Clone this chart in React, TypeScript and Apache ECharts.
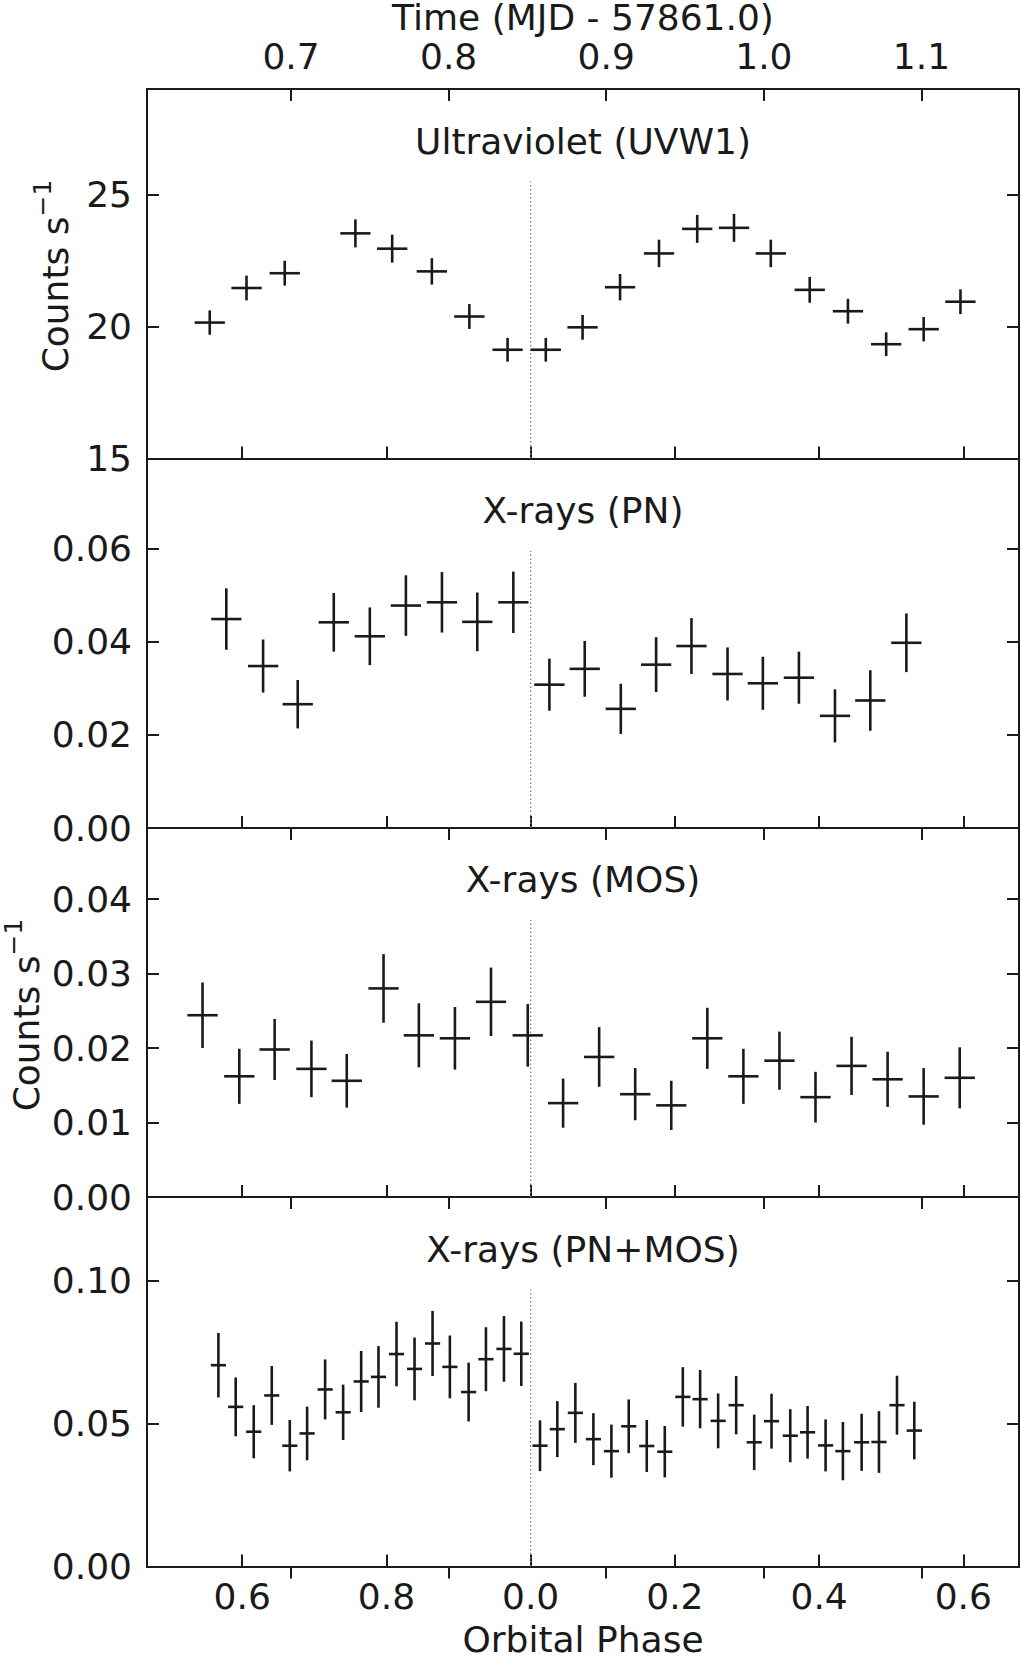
import React, { useEffect, useRef } from "react";
import * as echarts from "echarts";

// ---- data ----
const uvPhase = [0.555, 0.606, 0.659, 0.757, 0.808, 0.863, 0.915, 0.968, 1.021, 1.072, 1.124, 1.178, 1.231, 1.282, 1.333, 1.387, 1.44, 1.493, 1.545, 1.596];
const uvRate = [20.15, 21.46, 22.02, 23.53, 22.95, 22.09, 20.38, 19.12, 19.12, 19.97, 21.49, 22.77, 23.7, 23.74, 22.77, 21.39, 20.58, 19.33, 19.9, 20.94];
const uvErr = [0.46, 0.47, 0.47, 0.53, 0.53, 0.5, 0.47, 0.45, 0.45, 0.47, 0.5, 0.52, 0.53, 0.53, 0.52, 0.49, 0.47, 0.45, 0.46, 0.47];

const pnPhase = [0.578, 0.629, 0.677, 0.727, 0.777, 0.827, 0.877, 0.926, 0.976, 1.026, 1.075, 1.125, 1.174, 1.223, 1.273, 1.322, 1.372, 1.422, 1.471, 1.521];
const pnRate = [0.0449, 0.0348, 0.0266, 0.0442, 0.0412, 0.0478, 0.0485, 0.0443, 0.0485, 0.0308, 0.0342, 0.0256, 0.0351, 0.0391, 0.0331, 0.0311, 0.0323, 0.0241, 0.0274, 0.0398];
const pnErr = [0.0066, 0.0057, 0.0052, 0.0063, 0.0062, 0.0065, 0.0065, 0.0063, 0.0066, 0.0056, 0.006, 0.0054, 0.0059, 0.006, 0.0057, 0.0057, 0.0056, 0.0057, 0.0065, 0.0063];

const mosPhase = [0.545, 0.596, 0.645, 0.696, 0.745, 0.796, 0.845, 0.895, 0.945, 0.996, 1.045, 1.095, 1.145, 1.195, 1.245, 1.295, 1.345, 1.395, 1.445, 1.495, 1.545, 1.595];
const mosRate = [0.0244, 0.0162, 0.0198, 0.0172, 0.0156, 0.028, 0.0217, 0.0213, 0.0262, 0.0217, 0.0126, 0.0188, 0.0138, 0.0123, 0.0213, 0.0162, 0.0183, 0.0134, 0.0176, 0.0158, 0.0135, 0.016];
const mosErr = [0.0044, 0.0037, 0.0041, 0.0038, 0.0036, 0.0046, 0.0043, 0.0042, 0.0046, 0.0042, 0.0033, 0.004, 0.0035, 0.0033, 0.0041, 0.0037, 0.0039, 0.0034, 0.0039, 0.0037, 0.0038, 0.0041];

const sumPhase = [0.567, 0.591, 0.616, 0.641, 0.666, 0.69, 0.715, 0.74, 0.765, 0.789, 0.814, 0.839, 0.864, 0.888, 0.914, 0.938, 0.963, 0.987, 1.013, 1.037, 1.062, 1.087, 1.112, 1.136, 1.161, 1.186, 1.211, 1.235, 1.26, 1.285, 1.31, 1.334, 1.36, 1.384, 1.409, 1.433, 1.459, 1.483, 1.508, 1.532];
const sumRate = [0.0705, 0.0559, 0.0472, 0.0599, 0.0423, 0.0466, 0.062, 0.054, 0.0648, 0.0664, 0.0744, 0.0692, 0.0781, 0.0699, 0.0611, 0.0726, 0.0762, 0.0745, 0.0423, 0.0481, 0.0538, 0.0446, 0.0404, 0.0491, 0.0422, 0.0402, 0.0594, 0.0586, 0.051, 0.0565, 0.0435, 0.0509, 0.0458, 0.047, 0.0424, 0.0404, 0.0435, 0.0436, 0.0565, 0.0476];
const sumErr = [0.0113, 0.0103, 0.0093, 0.0103, 0.009, 0.0094, 0.0105, 0.0097, 0.0107, 0.0108, 0.0113, 0.011, 0.0114, 0.011, 0.0103, 0.0112, 0.0115, 0.0113, 0.0089, 0.0098, 0.0105, 0.0091, 0.0093, 0.0094, 0.0091, 0.009, 0.0104, 0.0102, 0.0096, 0.0102, 0.0097, 0.0096, 0.0093, 0.0092, 0.0091, 0.0102, 0.01, 0.0108, 0.0103, 0.0101];

const panelTitles = ["Ultraviolet (UVW1)", "X-rays (PN)", "X-rays (MOS)", "X-rays (PN+MOS)"];
const phaseTicks = [0.6, 0.8, 1.0, 1.2, 1.4, 1.6];
const timeTicks = [0.7, 0.8, 0.9, 1.0, 1.1];
const uvTicks = [15, 20, 25];
const pnTicks = [0, 0.02, 0.04, 0.06];
const mosTicks = [0, 0.01, 0.02, 0.03, 0.04];
const sumTicks = [0, 0.05, 0.1];

const phaseRange = [0.468, 1.6772];
const timeRange = [0.60864, 1.16186];
const yRanges = [
  [15, 29],
  [0, 0.0794],
  [0, 0.0496],
  [0, 0.1294],
];
const xErrs = [0.021, 0.021, 0.021, 0.0105];
const eclipsePhase = 1.0;

const FONT = "DejaVu Sans";
const INK = "#1a1a1a";
const FS = 36;

export default function App() {
  const ref = useRef<HTMLDivElement>(null);

  useEffect(() => {
    if (!ref.current) return;
    const chart = echarts.init(ref.current, undefined, { renderer: "svg" });

    const gridLeft = 147;
    const gridWidth = 872;
    const tops = [89, 458.5, 827.5, 1197];
    const h = 369.5;

    const sets = [
      { p: uvPhase, r: uvRate, e: uvErr, ticks: uvTicks, fmt: (v: number) => String(Math.round(v)) },
      { p: pnPhase, r: pnRate, e: pnErr, ticks: pnTicks, fmt: (v: number) => v.toFixed(2) },
      { p: mosPhase, r: mosRate, e: mosErr, ticks: mosTicks, fmt: (v: number) => v.toFixed(2) },
      { p: sumPhase, r: sumRate, e: sumErr, ticks: sumTicks, fmt: (v: number) => v.toFixed(2) },
    ];

    const grid: any[] = [];
    const xAxis: any[] = [];
    const yAxis: any[] = [];
    const series: any[] = [];
    const graphic: any[] = [];

    const axisLine = { show: true, lineStyle: { color: INK, width: 2 } };
    const tickStyle = { color: INK, width: 2 };

    sets.forEach((s, i) => {
      grid.push({
        left: gridLeft,
        top: tops[i],
        width: gridWidth,
        height: h,
        containLabel: false,
        outerBoundsMode: "none",
      });
      // bottom phase axis
      xAxis.push({
        type: "value",
        gridIndex: i,
        position: "bottom",
        min: phaseRange[0],
        max: phaseRange[1],
        axisLine,
        splitLine: { show: false },
        axisTick: { show: true, inside: true, length: 12, lineStyle: tickStyle, customValues: phaseTicks },
        axisLabel: {
          show: i === 3,
          customValues: phaseTicks,
          formatter: (v: number) => (v % 1).toFixed(1),
          fontFamily: FONT,
          fontSize: FS,
          color: INK,
          margin: 12,
        },
      });
      // top time axis
      xAxis.push({
        type: "value",
        gridIndex: i,
        position: "top",
        min: timeRange[0],
        max: timeRange[1],
        axisLine,
        splitLine: { show: false },
        axisTick: { show: true, inside: true, length: 12, lineStyle: tickStyle, customValues: timeTicks },
        axisLabel: {
          show: i === 0,
          customValues: timeTicks,
          formatter: (v: number) => v.toFixed(1),
          fontFamily: FONT,
          fontSize: FS,
          color: INK,
          margin: 15,
        },
      });
      yAxis.push({
        type: "value",
        gridIndex: i,
        position: "left",
        min: yRanges[i][0],
        max: yRanges[i][1],
        axisLine,
        splitLine: { show: false },
        axisTick: { show: true, inside: true, length: 12, lineStyle: tickStyle, customValues: s.ticks },
        axisLabel: {
          show: true,
          customValues: s.ticks,
          formatter: s.fmt,
          fontFamily: FONT,
          fontSize: FS,
          color: INK,
          margin: 15,
        },
      });
      yAxis.push({
        type: "value",
        gridIndex: i,
        position: "right",
        min: yRanges[i][0],
        max: yRanges[i][1],
        axisLine,
        splitLine: { show: false },
        axisTick: { show: true, inside: true, length: 12, lineStyle: tickStyle, customValues: s.ticks },
        axisLabel: { show: false },
      });

      const xerr = xErrs[i];
      series.push({
        type: "custom",
        xAxisIndex: i * 2,
        yAxisIndex: i * 2,
        silent: true,
        encode: { x: 0, y: 1 },
        data: s.p.map((p, k) => [p, s.r[k], s.e[k]]),
        renderItem: (params: any, api: any) => {
          const x = api.value(0);
          const y = api.value(1);
          const e = api.value(2);
          const c = api.coord([x, y]);
          const t = api.coord([x, y + e]);
          const b = api.coord([x, y - e]);
          const l = api.coord([x - xerr, y]);
          const r = api.coord([x + xerr, y]);
          const st = { stroke: INK, lineWidth: 2.6 };
          return {
            type: "group",
            children: [
              { type: "line", shape: { x1: t[0], y1: t[1], x2: b[0], y2: b[1] }, style: st },
              { type: "line", shape: { x1: l[0], y1: c[1], x2: r[0], y2: c[1] }, style: st },
            ],
          };
        },
      });
      // dotted line at phase 0 (ymax = 0.75 of the axes height)
      const y0 = yRanges[i][0];
      const y1 = yRanges[i][0] + 0.75 * (yRanges[i][1] - yRanges[i][0]);
      series.push({
        type: "line",
        xAxisIndex: i * 2,
        yAxisIndex: i * 2,
        silent: true,
        symbol: "none",
        data: [
          [eclipsePhase, y0],
          [eclipsePhase, y1],
        ],
        lineStyle: { color: "#7a7a7a", width: 1.3, type: [1.5, 2.5] },
        z: 1,
      });

      graphic.push({
        type: "text",
        x: gridLeft + gridWidth / 2,
        y: tops[i] + 52,
        silent: true,
        style: {
          text: panelTitles[i],
          fontFamily: FONT,
          fontSize: FS,
          fill: INK,
          textAlign: "center",
          align: "center",
          textVerticalAlign: "middle",
          verticalAlign: "middle",
        },
      });
    });

    const yLabel = (x: number, y: number) => ({
      type: "text",
      x,
      y,
      rotation: Math.PI / 2,
      silent: true,
      style: {
        text: "Counts s{sup|−1}",
        fontFamily: FONT,
        fontSize: FS,
        lineHeight: 52,
        fill: INK,
        textAlign: "center",
        align: "center",
        textVerticalAlign: "middle",
        verticalAlign: "middle",
        rich: {
          sup: { fontFamily: FONT, fontSize: 25, lineHeight: 27, verticalAlign: "top", fill: INK, color: INK },
        },
      },
    });
    graphic.push(yLabel(55.5, 276));
    graphic.push(yLabel(26.5, 1015));

    graphic.push({
      type: "text",
      x: gridLeft + gridWidth / 2,
      y: 17.5,
      silent: true,
      style: {
        text: "Time (MJD - 57861.0)",
        fontFamily: FONT,
        fontSize: FS,
        fill: INK,
        textAlign: "center",
        align: "center",
        textVerticalAlign: "middle",
        verticalAlign: "middle",
      },
    });
    graphic.push({
      type: "text",
      x: gridLeft + gridWidth / 2,
      y: 1639,
      silent: true,
      style: {
        text: "Orbital Phase",
        fontFamily: FONT,
        fontSize: FS,
        fill: INK,
        textAlign: "center",
        align: "center",
        textVerticalAlign: "middle",
        verticalAlign: "middle",
      },
    });

    chart.setOption({
      animation: false,
      backgroundColor: "#ffffff",
      textStyle: { fontFamily: FONT },
      grid,
      xAxis,
      yAxis,
      series,
      graphic,
    });

    return () => chart.dispose();
  }, []);

  return (
    <div
      ref={ref}
      style={{ position: "absolute", left: 0, top: 0, width: 1021, height: 1656, background: "#fff" }}
    />
  );
}
